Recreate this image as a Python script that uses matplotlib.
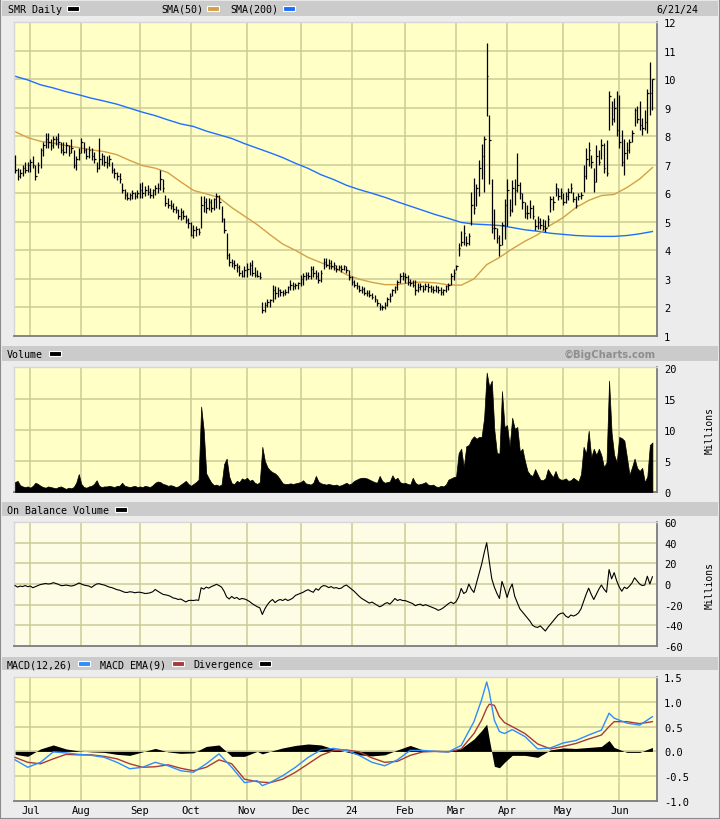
import numpy as np
import pandas as pd
import matplotlib
matplotlib.use('Agg')
import matplotlib.pyplot as plt
from matplotlib.patches import Rectangle

# ---------------------------------------------------------------- calendar
holidays = ['2023-07-04', '2023-09-04', '2023-11-23', '2023-12-25',
            '2024-01-01', '2024-01-15', '2024-02-19', '2024-03-29',
            '2024-05-27', '2024-06-19']
dates = pd.bdate_range('2023-06-23', '2024-06-21')
dates = dates[~dates.isin(pd.to_datetime(holidays))]
month_labels = ['Jul', 'Aug', 'Sep', 'Oct', 'Nov', 'Dec', '24',
                'Feb', 'Mar', 'Apr', 'May', 'Jun']

# ---------------------------------------------------------------- SMR daily bars
high = [
    7.35, 6.9, 6.85, 7.0, 7.1, 7.1,                                        # Jun
    7.2, 7.3, 7.0, 7.1, 7.6, 7.8, 8.1, 8.1, 7.9, 8.0, 8.0, 8.1, 7.8, 7.8,
    7.8, 7.7, 7.9, 7.5, 7.3, 7.6,                                          # Jul
    7.95, 7.8, 7.6, 7.65, 7.6, 7.45, 7.1, 7.95, 7.4, 7.35, 7.3, 7.35, 7.1,
    6.9, 6.75, 6.7, 6.35, 6.15, 6.05, 6.0, 6.1, 6.05, 6.1,                 # Aug
    6.35, 6.4, 6.25, 6.3, 6.2, 6.15, 6.3, 6.35, 6.8, 6.5, 5.95, 5.85, 5.75,
    5.65, 5.55, 5.45, 5.5, 5.4, 5.25, 5.15,                                # Sep
    5.0, 4.9, 4.85, 4.8, 5.9, 5.9, 5.85, 5.85, 5.8, 5.85, 6.0, 5.95, 5.55,
    5.15, 4.6, 3.9, 3.7, 3.65, 3.55, 3.5, 3.3, 3.45,                       # Oct
    3.55, 3.6, 3.65, 3.4, 3.3, 3.25, 2.2, 2.2, 2.3, 2.3, 2.8, 2.75, 2.7,
    2.65, 2.6, 2.65, 2.75, 2.95, 2.9, 2.85, 2.9,                           # Nov
    3.15, 3.2, 3.25, 3.25, 3.45, 3.45, 3.3, 3.25, 3.3, 3.75, 3.75, 3.7,
    3.65, 3.6, 3.5, 3.5, 3.5, 3.5, 3.45, 3.3,                              # Dec
    3.1, 2.95, 2.9, 2.8, 2.75, 2.7, 2.6, 2.6, 2.5, 2.45, 2.3, 2.15, 2.1,
    2.2, 2.35, 2.5, 2.65, 2.75, 2.95, 3.2, 3.25,                           # Jan
    3.2, 3.15, 3.0, 2.95, 2.95, 2.85, 2.85, 2.8, 2.85, 2.85, 2.8, 2.75,
    2.8, 2.75, 2.7, 2.65, 2.8, 2.85, 3.2, 3.35,                            # Feb
    3.5, 4.27, 4.68, 4.9, 4.5, 4.6, 6.05, 6.55, 6.33, 7.15, 7.74, 8.0,
    11.25, 8.74, 6.5, 5.45, 4.8, 4.55, 5.0, 5.8,                           # Mar
    6.5, 5.8, 6.45, 6.5, 7.4, 6.4, 6.0, 5.7, 5.6, 5.75, 5.6, 5.1, 5.2,
    5.15, 5.1, 5.05, 5.25, 5.9, 5.9, 6.35, 6.2, 6.2,                       # Apr
    6.0, 6.05, 6.2, 6.35, 6.05, 5.9, 6.0, 6.05, 7.0, 7.6, 7.8, 7.35, 6.9,
    7.7, 7.5, 7.9, 7.75, 7.85, 9.6, 9.25, 9.35, 9.6,                       # May
    9.45, 8.2, 7.9, 7.8, 7.9, 8.2, 9.0, 9.06, 9.25, 8.65, 8.9, 9.65,
    10.6, 10.0,                                                            # Jun
]
low = [
    6.7, 6.45, 6.55, 6.6, 6.7, 6.75,
    6.75, 6.9, 6.45, 6.7, 6.9, 7.3, 7.6, 7.6, 7.5, 7.6, 7.7, 7.6, 7.4, 7.35,
    7.4, 7.3, 7.4, 6.9, 6.8, 7.15,
    7.4, 7.4, 7.2, 7.25, 7.15, 7.05, 6.75, 6.85, 7.0, 6.95, 6.9, 6.95, 6.7,
    6.55, 6.45, 6.35, 6.0, 5.8, 5.75, 5.75, 5.8, 5.8, 5.85,
    5.85, 5.85, 5.9, 5.95, 5.85, 5.85, 5.95, 6.0, 6.1, 6.05, 5.55, 5.5, 5.45,
    5.35, 5.3, 5.1, 5.05, 5.1, 4.95, 4.8,
    4.5, 4.45, 4.5, 4.55, 4.8, 5.35, 5.3, 5.4, 5.35, 5.4, 5.5, 5.45, 5.0,
    4.6, 3.7, 3.45, 3.4, 3.35, 3.25, 3.1, 3.05, 3.05,
    3.05, 3.15, 3.1, 3.05, 3.05, 3.0, 1.8, 1.85, 2.0, 2.0, 2.2, 2.3, 2.35,
    2.4, 2.4, 2.45, 2.5, 2.6, 2.6, 2.65, 2.65,
    2.75, 2.8, 2.95, 3.0, 3.0, 3.05, 3.0, 2.85, 2.9, 3.35, 3.4, 3.35,
    3.35, 3.3, 3.25, 3.3, 3.25, 3.3, 3.2, 2.95,
    2.8, 2.7, 2.65, 2.55, 2.5, 2.45, 2.4, 2.35, 2.3, 2.2, 2.05, 1.9, 1.9,
    1.95, 2.05, 2.2, 2.4, 2.5, 2.6, 2.85, 2.95,
    2.85, 2.8, 2.75, 2.7, 2.45, 2.55, 2.6, 2.55, 2.6, 2.55, 2.55, 2.5,
    2.55, 2.5, 2.45, 2.45, 2.55, 2.6, 2.8, 2.95,
    3.3, 3.8, 4.15, 4.2, 4.15, 4.2, 4.9, 5.27, 5.56, 5.9, 6.5, 6.05,
    8.7, 6.33, 4.6, 4.4, 4.27, 3.8, 4.2, 4.4,
    4.85, 5.2, 5.33, 5.6, 6.05, 5.8, 5.45, 5.15, 5.1, 5.15, 5.1, 4.7, 4.75,
    4.75, 4.7, 4.65, 4.85, 5.35, 5.4, 5.9, 5.75, 5.8,
    5.6, 5.65, 5.75, 6.0, 5.7, 5.5, 5.75, 5.8, 6.05, 6.5, 6.95, 6.9, 6.05,
    6.4, 7.0, 7.2, 6.7, 6.6, 8.2, 8.4, 8.5, 8.0,
    7.6, 6.95, 6.65, 7.2, 7.4, 7.8, 8.35, 8.47, 8.2, 8.05, 8.2, 8.1,
    8.75, 8.9,
]
close = [
    6.8, 6.6, 6.7, 6.9, 6.8, 7.0,
    7.1, 7.0, 6.6, 7.0, 7.5, 7.7, 7.9, 7.8, 7.7, 7.9, 7.9, 7.8, 7.5, 7.45,
    7.7, 7.4, 7.6, 7.0, 7.2, 7.4,
    7.8, 7.5, 7.3, 7.5, 7.3, 7.2, 6.9, 7.2, 7.3, 7.1, 7.05, 7.2, 6.8,
    6.7, 6.6, 6.5, 6.1, 5.95, 5.85, 5.95, 6.0, 5.9, 6.0,
    6.1, 6.0, 6.1, 6.05, 5.95, 6.1, 6.2, 6.2, 6.5, 6.2, 5.65, 5.6, 5.55,
    5.45, 5.4, 5.2, 5.35, 5.2, 5.05, 4.95,
    4.55, 4.7, 4.75, 4.65, 5.6, 5.7, 5.5, 5.7, 5.5, 5.8, 5.9, 5.7, 5.1,
    4.7, 3.85, 3.6, 3.55, 3.5, 3.4, 3.2, 3.1, 3.3,
    3.35, 3.5, 3.2, 3.15, 3.1, 3.05, 1.9, 2.1, 2.2, 2.25, 2.6, 2.5, 2.6,
    2.55, 2.5, 2.55, 2.7, 2.8, 2.75, 2.8, 2.85,
    3.0, 3.1, 3.15, 3.1, 3.35, 3.2, 3.1, 2.95, 3.2, 3.6, 3.5, 3.55,
    3.45, 3.5, 3.35, 3.4, 3.35, 3.45, 3.3, 3.05,
    2.9, 2.8, 2.75, 2.6, 2.65, 2.5, 2.5, 2.45, 2.35, 2.3, 2.15, 2.0, 2.0,
    2.1, 2.3, 2.4, 2.6, 2.7, 2.9, 3.1, 3.1,
    3.05, 2.9, 2.85, 2.8, 2.6, 2.7, 2.75, 2.65, 2.75, 2.7, 2.65, 2.6,
    2.7, 2.6, 2.55, 2.6, 2.75, 2.8, 3.1, 3.2,
    3.45, 4.1, 4.3, 4.6, 4.25, 4.5, 5.6, 5.5, 6.2, 6.9, 7.3, 7.9,
    10.1, 7.85, 4.8, 4.8, 4.45, 4.2, 4.9, 5.6,
    6.1, 5.4, 6.2, 6.1, 6.3, 6.0, 5.7, 5.3, 5.3, 5.5, 5.2, 4.85, 5.0,
    4.9, 4.85, 4.8, 5.1, 5.8, 5.7, 6.2, 5.9, 6.05,
    5.7, 5.9, 6.05, 6.2, 5.8, 5.6, 5.9, 5.95, 6.6, 7.2, 7.5, 7.1, 6.4,
    7.3, 7.1, 7.7, 6.9, 6.7, 9.4, 8.6, 9.0, 8.2,
    7.8, 7.1, 7.4, 7.5, 7.8, 8.1, 8.9, 8.6, 8.4, 8.3, 8.5, 9.5,
    9.5, 10.0,
]

# moving averages, read every 5th trading day
sma_step = 5
sma50 = [8.16, 7.95, 7.82, 7.76, 7.67, 7.6, 7.52, 7.46, 7.35, 7.15,
         6.97, 6.88, 6.72, 6.4, 6.1, 5.98, 5.85, 5.5, 5.2, 4.9,
         4.55, 4.22, 4.0, 3.75, 3.57, 3.4, 3.15, 2.99, 2.88, 2.8,
         2.8, 2.87, 2.89, 2.86, 2.79, 2.78, 3.0, 3.5, 3.75, 4.05,
         4.32, 4.55, 4.88, 5.15, 5.5, 5.75, 5.92, 5.96, 6.2, 6.5, 6.9]
sma200 = [10.1, 9.97, 9.8, 9.69, 9.56, 9.45, 9.33, 9.23, 9.12, 8.98,
          8.84, 8.72, 8.57, 8.43, 8.34, 8.18, 8.05, 7.92, 7.74, 7.58,
          7.42, 7.25, 7.05, 6.87, 6.65, 6.48, 6.28, 6.13, 6.0, 5.86,
          5.7, 5.55, 5.4, 5.25, 5.12, 4.98, 4.92, 4.9, 4.87, 4.8,
          4.72, 4.67, 4.6, 4.56, 4.52, 4.5, 4.49, 4.49, 4.52, 4.58, 4.66]

# ---------------------------------------------------------------- volume (millions)
volume = [
    1.6, 1.8, 1.1, 0.9, 0.8, 0.9,
    0.7, 1.0, 1.5, 1.3, 1.0, 0.8, 0.7, 0.9, 0.8, 0.7, 0.6, 0.8, 0.9, 0.7,
    0.5, 0.7, 0.6, 0.8, 1.5, 2.9,
    1.3, 0.8, 0.7, 0.9, 1.0, 1.3, 1.9, 1.0, 0.8, 0.9, 0.9, 1.0, 0.9, 0.8,
    1.0, 1.0, 1.5, 1.0, 0.9, 0.8, 0.9, 1.0, 0.8,
    0.9, 0.8, 1.0, 0.9, 0.8, 1.1, 1.5, 1.7, 1.6, 1.3, 1.2, 1.0, 1.1, 1.0,
    0.8, 0.9, 1.2, 1.5, 1.8, 1.3,
    1.0, 1.3, 1.6, 2.0, 13.8, 10.0, 3.0, 2.2, 1.5, 1.1, 1.2, 1.0, 1.2, 4.5,
    5.4, 2.5, 1.4, 1.3, 1.8, 1.6, 2.2, 2.0,
    2.3, 1.8, 2.0, 1.5, 1.3, 1.6, 7.3, 5.0, 4.0, 3.5, 3.2, 3.0, 2.6, 2.0,
    1.4, 1.3, 1.3, 1.4, 1.3, 1.4, 1.5,
    1.6, 1.9, 1.4, 1.3, 1.2, 1.5, 2.6, 1.7, 1.4, 1.3, 1.2, 1.3, 1.2, 1.1,
    1.2, 1.0, 1.1, 1.3, 1.5, 1.2,
    1.4, 1.8, 2.0, 2.2, 2.3, 2.3, 2.2, 2.0, 1.8, 1.6, 1.5, 2.6, 1.8, 1.5,
    1.6, 1.7, 2.7, 2.0, 2.3, 1.6, 1.4,
    1.5, 1.3, 1.2, 2.3, 1.5, 1.2, 1.3, 1.4, 1.6, 1.2, 1.1, 1.2, 0.9, 0.8,
    1.0, 0.9, 1.2, 2.0, 2.2, 2.4,
    2.5, 6.3, 7.0, 4.0, 7.4, 7.6, 8.5, 9.0, 8.6, 8.9, 8.9, 12.0, 19.3,
    17.0, 18.0, 10.0, 6.3, 6.2, 16.3, 10.5,
    10.8, 7.3, 12.0, 10.2, 10.5, 6.5, 7.0, 5.0, 3.4, 2.8, 2.6, 3.7, 2.8,
    2.0, 1.9, 2.2, 3.7, 3.0, 2.4, 3.4, 2.3, 2.0,
    2.0, 2.2, 1.8, 1.9, 2.3, 2.0, 1.7, 2.9, 7.3, 6.2, 9.9, 5.6, 7.0, 6.0,
    7.0, 5.9, 4.0, 4.8, 18.0, 9.5, 6.0, 4.8,
    8.9, 8.7, 8.3, 5.6, 2.8, 4.0, 5.4, 3.9, 3.4, 3.9, 1.6, 2.5, 7.6, 8.0,
]

# ---------------------------------------------------------------- on balance volume (millions)
obv = [
    -1.5, -3, -2, -2.5, -1.5, -2.6,
    -2, -3.6, -2.5, -1.5, -0.5, 0, 0.5, 0, 0.3, 1.3, 0.5, -0.3, -1.5, -1.5,
    -1, -1.5, -2, -1.5, -0.5, 1.0,
    0, -1, -1.5, -2, -3.3, -1.5, 0, 0.3, -0.5, -1, -2, -3, -3.5, -4.5,
    -5.5, -6, -7, -8, -8.2, -7.5, -7.8, -8.5, -8,
    -8, -8.5, -9.2, -9, -8.5, -7.5, -5.3, -7, -8.5, -10, -10.5, -11, -12,
    -13.5, -14, -15, -14.5, -16, -17.4, -16,
    -15.8, -16, -15.5, -15.8, -3.6, -5, -3, -4, -2.5, -1.5, -0.3, -1.5, -3,
    -7, -12.5, -14.5, -12, -14, -13, -15, -14, -14.5,
    -15.5, -17, -19, -20.5, -22, -23, -29.5, -24, -20, -17, -15, -18, -16,
    -15, -16, -14.5, -16, -15, -13.5, -11, -10,
    -9, -8, -6.5, -5.5, -7, -8, -4.5, -6, -3, -1.5, -2, -3.5, -2.5, -4,
    -3.5, -4.5, -4, -2, -1, -3,
    -5, -7, -9.5, -12, -14, -15.5, -17, -18.5, -17.5, -19, -20.5, -22, -21,
    -19, -18, -19.5, -17, -14, -16, -15, -16,
    -16, -17, -18, -19, -21, -20, -19.5, -21, -20, -21, -22, -23, -24,
    -25.5, -24.5, -23, -21, -19, -17.5, -19,
    -17, -12.5, -4.3, -9.2, -7.5, 0, -5, -8.2, 1, 10, 18.8, 30, 40, 22, 5,
    -3, -9, -14, 2.5, -4.3,
    -13, -5, 0, -12, -18, -24, -27, -30, -33, -36, -40, -41.5, -42, -40.5,
    -43, -45.5, -42, -39, -36, -33, -30, -28.5,
    -28, -31, -32.5, -30, -31, -30, -28, -24, -17, -10, -4, -10, -15, -10,
    -5, -1, -5, -8, 14, 5, 11, 3,
    -3, -7, -3, -4.5, -2, 1, 6, 3, 0, -1.5, -1, 7.5, 0, 7,
]

# ---------------------------------------------------------------- MACD (12,26), EMA(9), divergence
macd_days = [0, 5, 10, 15, 20, 25, 30, 35, 40, 45, 50, 55, 60, 65, 70, 75,
             80, 85, 90, 95, 97, 100, 105, 110, 115, 120, 125, 130, 135,
             140, 145, 150, 155, 160, 165, 170, 175, 180, 183, 185, 186,
             188, 190, 192, 195, 200, 205, 210, 215, 220, 225, 230, 233,
             235, 240, 245, 250]
macd = [-0.17, -0.32, -0.22, -0.01, -0.03, -0.06, -0.08, -0.12, -0.22,
        -0.35, -0.32, -0.22, -0.29, -0.39, -0.42, -0.25, -0.05, -0.32,
        -0.63, -0.59, -0.69, -0.63, -0.49, -0.32, -0.12, 0.03, 0.06, 0.02,
        -0.08, -0.22, -0.29, -0.17, 0.02, 0.02, 0.0, -0.01, 0.12, 0.6,
        1.04, 1.4, 1.2, 0.63, 0.4, 0.36, 0.44, 0.3, 0.05, 0.07, 0.17, 0.22,
        0.33, 0.43, 0.77, 0.67, 0.57, 0.53, 0.7]
macd_ema = [-0.12, -0.22, -0.25, -0.15, -0.06, -0.07, -0.07, -0.1, -0.15,
            -0.25, -0.32, -0.31, -0.27, -0.34, -0.39, -0.32, -0.17, -0.25,
            -0.56, -0.61, -0.62, -0.63, -0.56, -0.42, -0.25, -0.08, 0.02,
            0.03, -0.01, -0.13, -0.22, -0.2, -0.08, -0.01, 0.0, -0.01, 0.05,
            0.36, 0.63, 0.87, 0.95, 0.93, 0.7, 0.58, 0.5, 0.36, 0.15, 0.05,
            0.1, 0.16, 0.25, 0.33, 0.5, 0.6, 0.6, 0.56, 0.6]
divergence = [-0.06, -0.1, 0.05, 0.13, 0.05, 0.01, -0.01, -0.02, -0.06,
              -0.08, -0.01, 0.06, -0.01, -0.04, -0.03, 0.1, 0.13, -0.1,
              -0.1, 0.0, -0.05, 0.0, 0.07, 0.12, 0.15, 0.13, 0.05, -0.01,
              -0.07, -0.09, -0.07, 0.03, 0.12, 0.03, 0.0, 0.0, 0.06, 0.25,
              0.42, 0.55, 0.25, -0.3, -0.33, -0.22, -0.08, -0.08, -0.12,
              0.03, 0.07, 0.06, 0.08, 0.1, 0.22, 0.08, -0.02, -0.02, 0.08]

# ---------------------------------------------------------------- style
W, H = 720, 820
BG = '#ececec'
BAR = '#cbcbcb'
PANEL = '#ffffc6'
GRID = '#cbcb96'
plt.rcParams['font.family'] = ['DejaVu Sans Mono']
plt.rcParams['font.size'] = 7

days = np.arange(len(dates))
month_pos = [i for i in range(1, len(dates)) if dates[i].month != dates[i - 1].month]
sma_days = np.arange(0, len(dates), sma_step)

fig = plt.figure(figsize=(W / 100, H / 100), dpi=100, facecolor=BG)


def fx(x):
    return x / W


def fy(y):
    return 1 - y / H


def header(y0, y1, items):
    fig.add_artist(Rectangle((fx(2), fy(y1)), fx(716), (y1 - y0) / H,
                             transform=fig.transFigure, fc=BAR, ec='none'))
    yc = (y0 + y1) / 2
    for x, txt, col, sx in items:
        fig.text(fx(x), fy(yc + 0.5), txt, ha='left', va='center', size=7.2)
        fig.add_artist(Rectangle((fx(sx), fy(yc + 2.5)), fx(12), 5 / H,
                                 transform=fig.transFigure, fc=col,
                                 ec='white', lw=0.8))


def panel(top, bottom, ylim, ticks, labels, face=PANEL):
    ax = fig.add_axes([fx(14), fy(bottom), fx(643), (bottom - top) / H])
    ax.set_facecolor(face)
    ax.set_xlim(-0.4, 251.8)
    ax.set_ylim(*ylim)
    for m in month_pos:
        ax.axvline(m, color=GRID, lw=1.1, zorder=0)
    for t in ticks[1:-1]:
        ax.axhline(t, color=GRID, lw=1.1, zorder=0)
    ax.set_yticks(ticks)
    ax.set_yticklabels(labels)
    ax.yaxis.tick_right()
    ax.tick_params(axis='y', length=0, pad=5, labelsize=7.5)
    ax.set_xticks([])
    for s in ['top', 'left']:
        ax.spines[s].set_color('#d6d6d6')
        ax.spines[s].set_linewidth(1.0)
    for s in ['bottom', 'right']:
        ax.spines[s].set_color('#7c7c7c')
        ax.spines[s].set_linewidth(1.3)
    return ax


# ---------------------------------------------------------------- price panel
header(2, 17, [(8, 'SMR Daily', 'black', 67),
               (161, 'SMA(50)', '#d4a048', 207),
               (230, 'SMA(200)', '#1f6fff', 283)])
fig.text(fx(698), fy(10), '6/21/24', ha='right', va='center', size=7.2)

p_ticks = list(range(1, 13))
ax1 = panel(23, 337, (1, 12), p_ticks, [str(t) for t in p_ticks])
ax1.plot(sma_days, sma200, color='#1f6fff', lw=1.0, zorder=2)
ax1.plot(sma_days, sma50, color='#d4a048', lw=1.0, zorder=2)
ax1.vlines(days, low, high, color='black', lw=0.9, zorder=3)
ax1.hlines(close, days, days + 0.6, color='black', lw=0.9, zorder=3)

# ---------------------------------------------------------------- volume panel
header(347, 362, [(7, 'Volume', 'black', 49)])
fig.text(fx(656), fy(355), '\u00a9BigCharts.com', ha='right', va='center',
         size=7.2, color='#8e8e8e', fontweight='bold', family='DejaVu Sans')
v_ticks = [0, 5, 10, 15, 20]
ax2 = panel(368, 493, (0, 20.2), v_ticks, [str(t) for t in v_ticks])
ax2.fill_between(days, 0, volume, color='black', lw=0.5, edgecolor='black', zorder=3)
fig.text(fx(710), fy(431), 'Millions', rotation=90, ha='center', va='center', size=7)

# ---------------------------------------------------------------- OBV panel
header(503, 517, [(7, 'On Balance Volume', 'black', 115)])
o_ticks = [-60, -40, -20, 0, 20, 40, 60]
ax3 = panel(523, 647, (-60, 60), o_ticks, [str(t) for t in o_ticks], face='#fdfde6')
ax3.plot(days, obv, color='black', lw=0.8, zorder=3)
fig.text(fx(710), fy(586), 'Millions', rotation=90, ha='center', va='center', size=7)

# ---------------------------------------------------------------- MACD panel
header(658, 671, [(7, 'MACD(12,26)', '#2f8cff', 78),
                  (100, 'MACD EMA(9)', '#a83a3a', 172),
                  (193, 'Divergence', 'black', 259)])
m_ticks = [-1.0, -0.5, 0.0, 0.5, 1.0, 1.5]
ax4 = panel(678, 802, (-1.0, 1.5), m_ticks, ['%.1f' % t for t in m_ticks])
ax4.fill_between(macd_days, 0, divergence, color='black', lw=0, zorder=2)
ax4.plot(macd_days, macd_ema, color='#a83a3a', lw=1.0, zorder=3)
ax4.plot(macd_days, macd, color='#2f8cff', lw=1.0, zorder=4)
ax4.set_xticks(month_pos)
ax4.set_xticklabels(month_labels)
ax4.tick_params(axis='x', length=0, pad=3, labelsize=7.5)

# outer frame
fig.add_artist(Rectangle((0, 0), 1, 1, transform=fig.transFigure,
                         fc='none', ec='#8a8a8a', lw=1.5))

fig.savefig('out.png', dpi=100, facecolor=BG)
